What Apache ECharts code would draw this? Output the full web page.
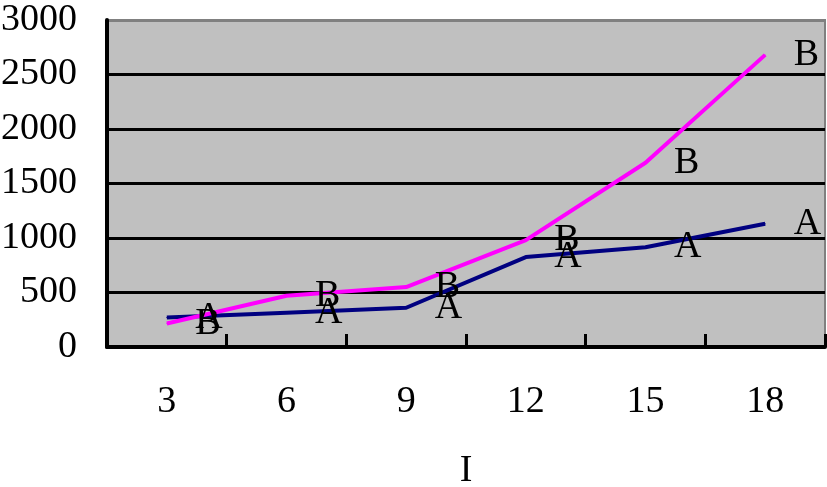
<!DOCTYPE html>
<html>
<head>
<meta charset="utf-8">
<script src="https://cdn.jsdelivr.net/npm/echarts@6/dist/echarts.min.js"></script>
<style>
  html, body { margin: 0; padding: 0; background: #fff; }
  #chart { width: 827px; height: 487px; }
</style>
</head>
<body>
<div id="chart"></div>
<script>
// data
var categories = ['3', '6', '9', '12', '15', '18'];
var seriesA = [270, 315, 360, 825, 915, 1130];
var seriesB = [215, 470, 550, 980, 1690, 2680];
var yTicks = { min: 0, max: 3000, interval: 500 };

var serif = "'Liberation Serif', 'Times New Roman', serif";

var myChart = echarts.init(document.getElementById('chart'));

function lineSeries(name, data, color) {
	return {
		name: name,
		type: 'line',
		data: data,
		symbol: 'circle',
		symbolSize: 1,
		itemStyle: { color: color },
		lineStyle: { color: color, width: 4 },
		label: {
			show: true,
			formatter: name,
			position: 'right',
			distance: 28,
			color: '#000',
			fontFamily: serif,
			fontSize: 38
		}
	};
}

var option = {
	animation: false,
	backgroundColor: '#fff',
	grid: {
		left: 107, right: 2, top: 20, bottom: 140,
		outerBoundsMode: 'none',
		containLabel: false,
		show: true,
		backgroundColor: '#C0C0C0',
		borderColor: '#808080',
		borderWidth: 2
	},
	xAxis: {
		type: 'category',
		data: categories,
		boundaryGap: true,
		name: 'I',
		nameLocation: 'middle',
		nameGap: 105,
		nameTextStyle: { color: '#000', fontFamily: serif, fontSize: 38 },
		axisLine: { lineStyle: { color: '#000', width: 4 } },
		axisTick: { show: true, inside: true, length: 13, lineStyle: { color: '#000', width: 3 } },
		axisLabel: { color: '#000', fontFamily: serif, fontSize: 38, margin: 36 },
		splitLine: { show: false }
	},
	yAxis: {
		type: 'value',
		min: yTicks.min,
		max: yTicks.max,
		interval: yTicks.interval,
		axisLine: { show: true, lineStyle: { color: '#000', width: 4 } },
		axisTick: { show: false },
		axisLabel: {
			color: '#000', fontFamily: serif, fontSize: 38, margin: 30,
			formatter: function (v) { return String(v); }
		},
		splitLine: {
			show: true,
			lineStyle: { color: ['#000', '#000', '#000', '#000', '#000', '#000', '#808080'], width: 3 }
		}
	},
	series: [
		lineSeries('A', seriesA, '#000080'),
		lineSeries('B', seriesB, '#FF00FF')
	]
};

myChart.setOption(option);
</script>
</body>
</html>
